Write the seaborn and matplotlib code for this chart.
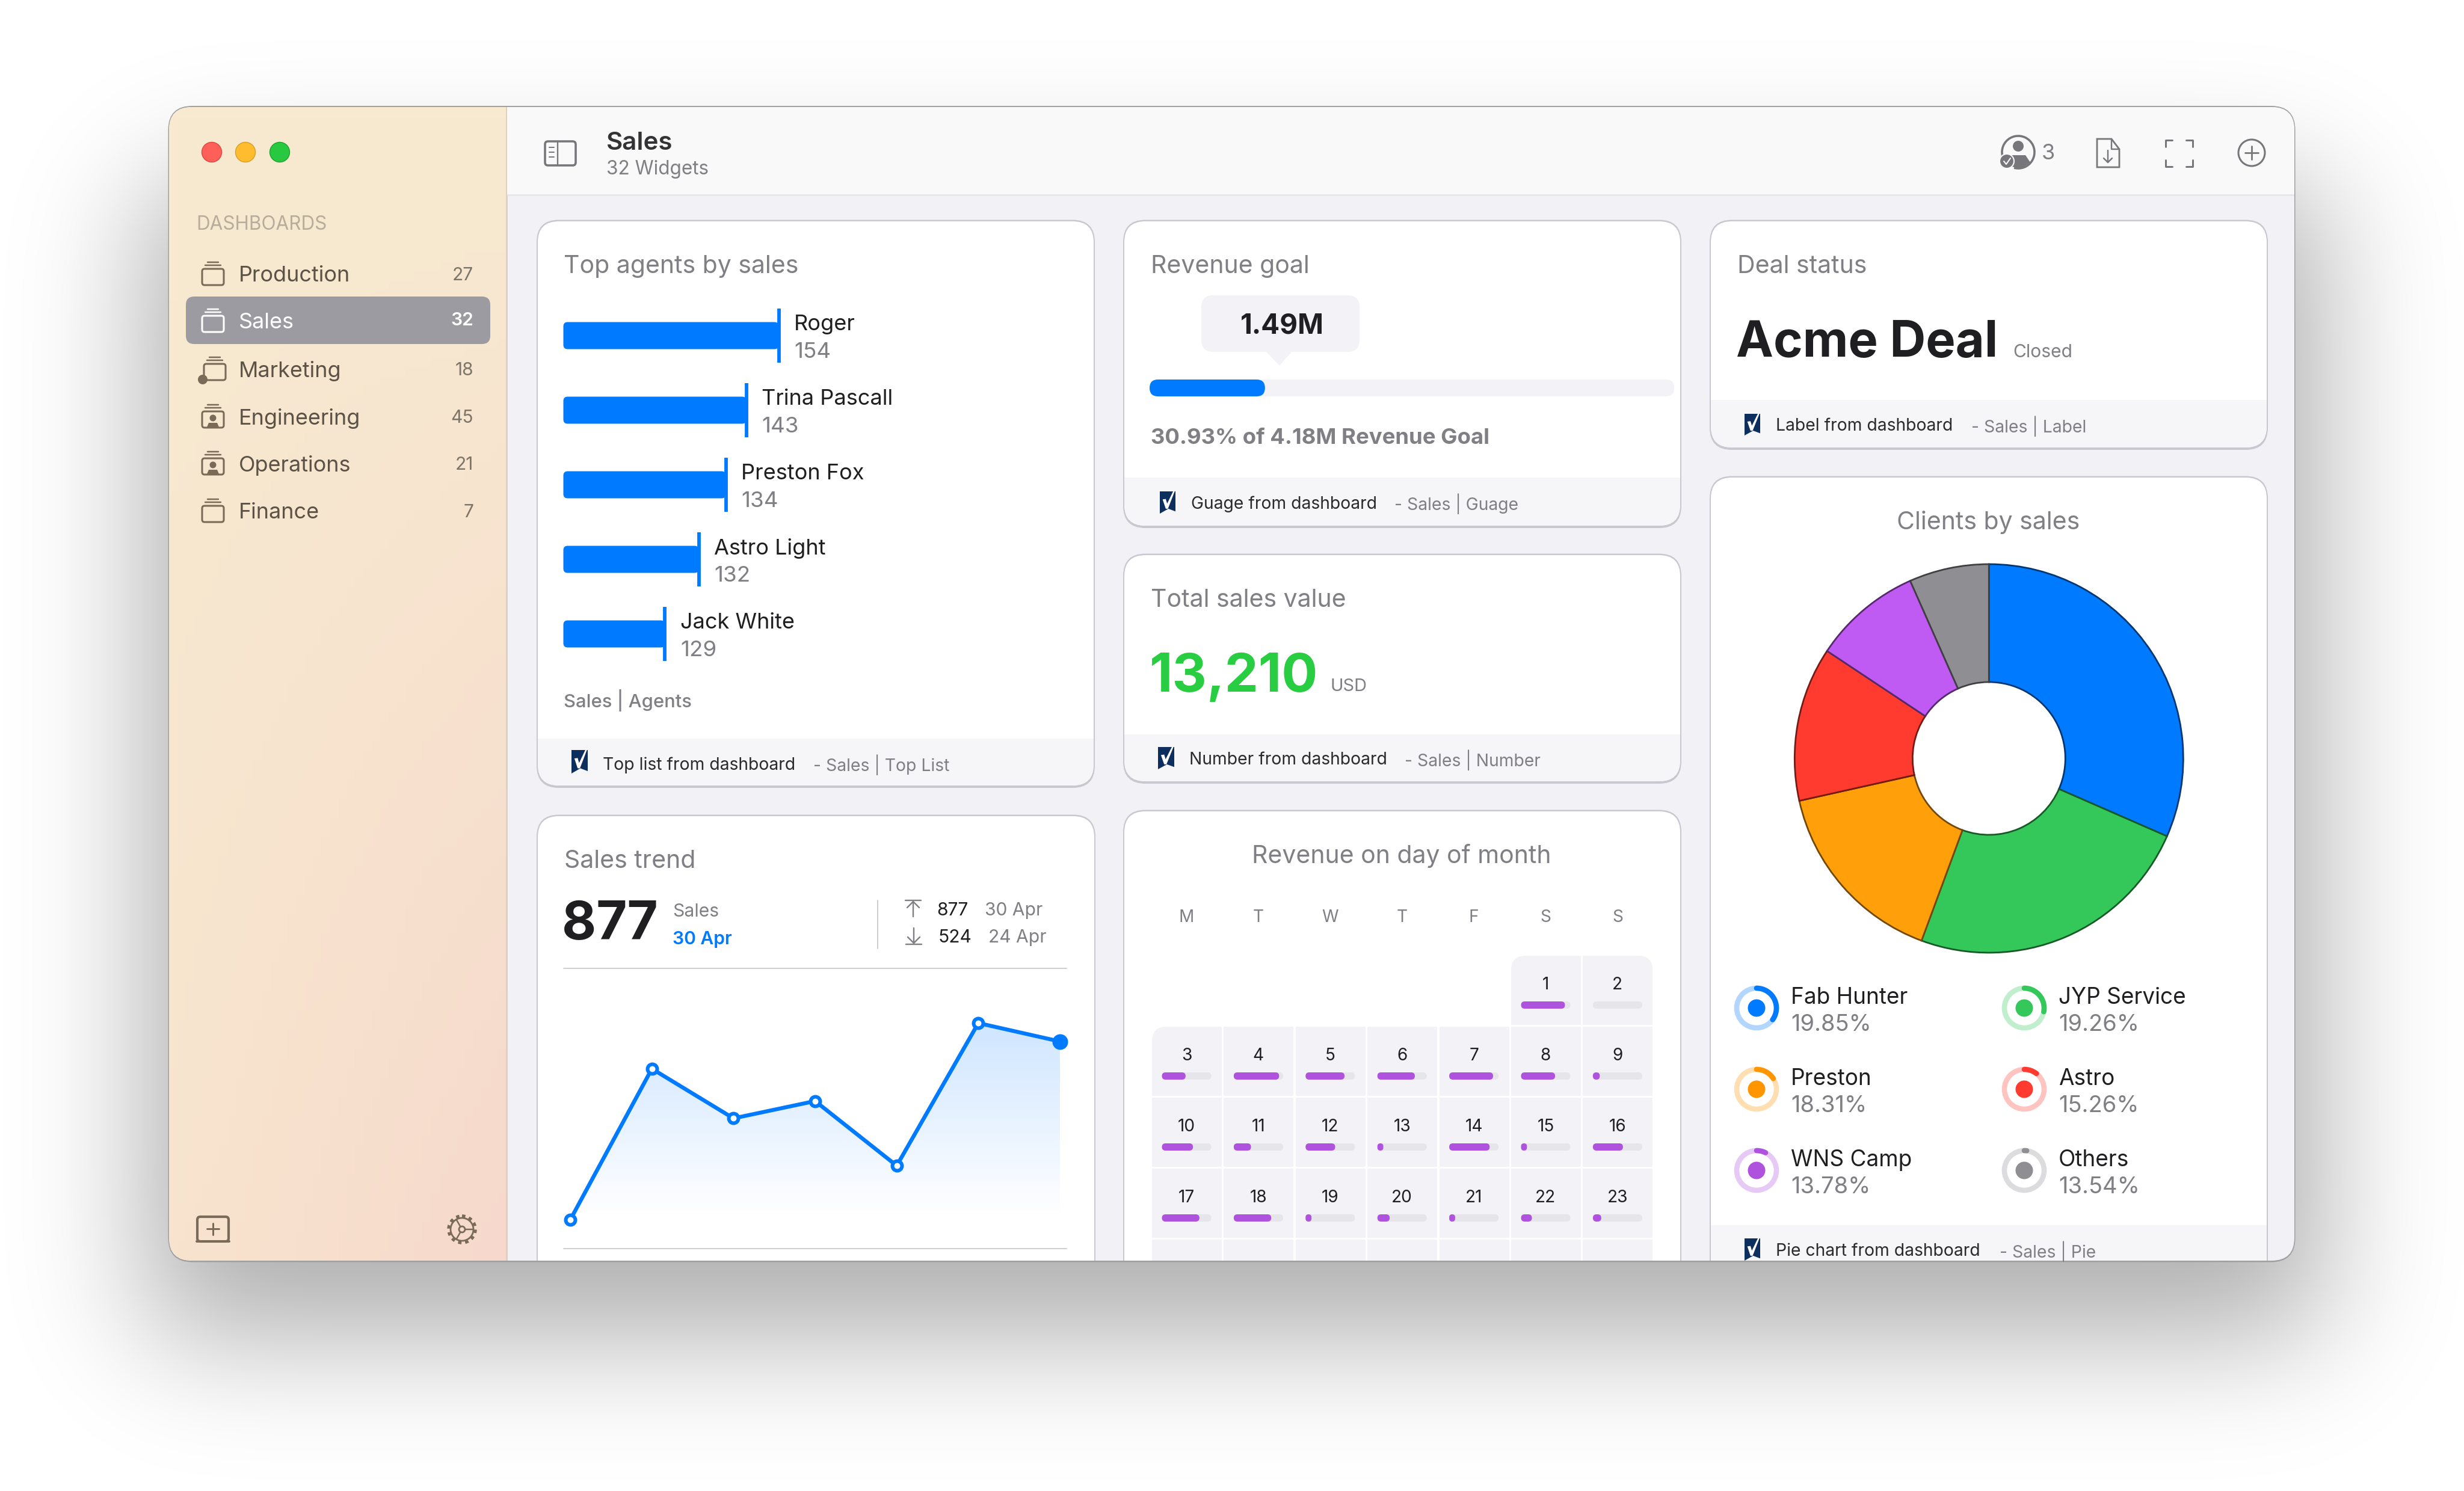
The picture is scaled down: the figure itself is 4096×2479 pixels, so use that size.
import math
import numpy as np
import pandas as pd
import matplotlib
matplotlib.use('Agg')
import matplotlib.pyplot as plt
import seaborn as sns
from matplotlib.patches import Arc, Circle, FancyBboxPatch, Polygon, Rectangle
from matplotlib.transforms import IdentityTransform

# sidebar
sidebar_names = ['Production', 'Sales', 'Marketing', 'Engineering', 'Operations', 'Finance']
sidebar_counts = [27, 32, 18, 45, 21, 7]
sidebar_icons = ['box', 'box', 'lock', 'person', 'person', 'box']

# top agents: the printed value and the length the bar really has on screen
agent_names = ['Roger', 'Trina Pascall', 'Preston Fox', 'Astro Light', 'Jack White']
agent_values = [154, 143, 134, 132, 129]
agent_bar_share = [100, 85, 75.5, 62.9, 47.2]

# gauge
gauge_fill = 22.0

# sales trend, days of april
trend_days = [24, 25, 26, 27, 28, 29, 30]
trend_values = [524, 795, 706, 737, 621, 877, 844]

# clients
client_names = ['Fab Hunter', 'JYP Service', 'Preston', 'Astro', 'WNS Camp', 'Others']
client_pct = ['19.85%', '19.26%', '18.31%', '15.26%', '13.78%', '13.54%']
pie_shares = [31.56, 24.08, 15.86, 12.83, 9.03, 6.64]
pie_order = ['#007aff', '#34c759', '#ff9f0a', '#ff3b30', '#bf5af2', '#8e8e93']
ring_arc = [35, 28, 16, 10.5, 7.5, 2]
ring_colors = ['#007aff', '#34c759', '#ff9500', '#ff3b30', '#af52de', '#8e8e93']

# calendar
weekdays = ['M', 'T', 'W', 'T', 'F', 'S', 'S']
day_fill = [89, 0, 48, 92, 79, 76, 89, 69, 14, 63, 35, 60, 12, 82, 12, 61, 76, 76, 12, 25, 12, 22, 17]

W, H = 4096, 2479
BLUE = '#007aff'
GRAY = '#7f7f84'
DARK = '#1f1f21'
BROWN = '#5c5346'
ICON = '#7a6a58'
FONT = 'Inter'

sns.set_theme(style='white')
plt.rcParams['font.family'] = [FONT, 'DejaVu Sans']

fig = plt.figure(figsize=(W / 100, H / 100), dpi=100, facecolor='white')
chrome = fig.add_axes([0, 0, 1, 1], zorder=0)
chrome.set_xlim(0, W)
chrome.set_ylim(H, 0)
chrome.axis('off')


def ax_px(x0, y0, x1, y1):
    ax = fig.add_axes([x0 / W, 1 - y1 / H, (x1 - x0) / W, (y1 - y0) / H], zorder=5)
    ax.patch.set_alpha(0)
    return ax


def T(x, y, s, size, color=DARK, weight='normal', ha='left', ax=None):
    # matplotlib centres on the line box, which sits a little high for this font
    (ax or chrome).text(x, y + size * 0.1, s, fontsize=size * 0.72, color=color, fontweight=weight,
                        ha=ha, va='center', zorder=8)


def rbox(x0, y0, x1, y1, r, **kw):
    return FancyBboxPatch((x0, y0), x1 - x0, y1 - y0, boxstyle=f'round,pad=0,rounding_size={r}', **kw)


def add(p, clip=True):
    chrome.add_patch(p)
    if clip:
        p.set_clip_path(window)
    return p


def seg(xs, ys, color=ICON, lw=3, z=6):
    line, = chrome.plot(xs, ys, color=color, lw=lw * 0.72, solid_capstyle='round', zorder=z)
    line.set_clip_path(window)


def round_bars(ax, r):
    # seaborn's rectangles give the extents, the visible shape gets round corners
    for p in list(ax.patches):
        bb = p.get_window_extent()
        p.set_visible(False)
        if bb.width < 0.5:
            continue
        rr = min(r, bb.width / 2, bb.height / 2)
        shape = rbox(bb.x0, bb.y0, bb.x1, bb.y1, rr, transform=IdentityTransform(),
                     facecolor=p.get_facecolor(), edgecolor='none', clip_on=False)
        ax.add_patch(shape)


def hbar(ax, labels, values, color, width=1.0):
    sns.barplot(x=values, y=labels, orient='h', color=color, width=width, saturation=1, ax=ax)


# shadow behind the window
xx, yy = np.meshgrid(np.arange(0, W, 8), np.arange(0, H, 8))
phi = np.vectorize(lambda v: 0.5 * (1 + math.erf(v / math.sqrt(2))))
shade = 0.32 * (phi((xx - 240) / 106) - phi((xx - 3855) / 106)) * (phi((yy - 302) / 106) - phi((yy - 2220) / 106))
rgba = np.zeros(xx.shape + (4,))
rgba[..., 3] = shade
chrome.imshow(rgba, extent=[0, W, H, 0], aspect='auto', zorder=0, interpolation='bilinear')
chrome.set_xlim(0, W)
chrome.set_ylim(H, 0)

# window and sidebar
WX0, WY0, WX1, WY1 = 281, 178, 3814, 2096
chrome.add_patch(rbox(WX0 - 1.5, WY0 - 2, WX1 + 1.5, WY1 + 2.5, 40, facecolor='#a0a0a0', edgecolor='none', zorder=0.4))
window = rbox(WX0, WY0, WX1, WY1, 38, facecolor='#f1f1f6', edgecolor='none', zorder=0.5)
chrome.add_patch(window)

gx, gy = np.meshgrid(np.linspace(0, 1, 40), np.linspace(0, 1, 120))
top = np.array([248, 234, 209]) / 255
low_left = np.array([248, 228, 206]) / 255
low_right = np.array([246, 217, 204]) / 255
t = gy[..., None]
lows = low_left + (low_right - low_left) * gx[..., None]
im = chrome.imshow(top + (lows - top) * t, extent=[WX0, 843, WY1, WY0], aspect='auto', zorder=0.6)
im.set_clip_path(window)
chrome.set_xlim(0, W)
chrome.set_ylim(H, 0)
add(Rectangle((841, WY0), 3, WY1 - WY0, facecolor='#dfd0c6', edgecolor='none', zorder=0.7))

for cx, col, edge in zip([352, 408, 465], ['#fe5f58', '#febc2e', '#28c840'], ['#e0443e', '#d99e24', '#1fa32f']):
    chrome.add_patch(Circle((cx, 253), 16.5, facecolor=col, edgecolor=edge, lw=1, zorder=5))

T(326, 370, 'DASHBOARDS', 31.5, '#b8ac9b')
chrome.add_patch(rbox(309, 493, 815, 572, 14, facecolor='#9c9ba2', edgecolor='none', zorder=2))


def stack_icon(x, y, kind, color):
    dx = 3 if kind == 'lock' else 0
    add(rbox(x - 18 + dx, y - 8, x + 18 + dx, y + 19, 4, facecolor='none', edgecolor=color, lw=2.2, zorder=6))
    seg([x - 13 + dx, x + 13 + dx], [y - 14, y - 14], color, 2.5)
    seg([x - 9 + dx, x + 9 + dx], [y - 19, y - 19], color, 2.5)
    if kind == 'person':
        add(Circle((x, y + 3), 5.5, facecolor=color, edgecolor='none', zorder=6))
        add(Polygon([(x - 10, y + 18), (x - 7, y + 11), (x + 7, y + 11), (x + 10, y + 18)],
                    facecolor=color, edgecolor='none', zorder=6))
    if kind == 'lock':
        add(Circle((x - 17, y + 18), 8, facecolor=color, edgecolor='none', zorder=6))


for i, (name, count, kind) in enumerate(zip(sidebar_names, sidebar_counts, sidebar_icons)):
    y = [455, 533, 613, 692, 770, 849][i]
    selected = name == 'Sales'
    stack_icon(354, y, kind, 'white' if selected else ICON)
    T(397, y, name, 36, 'white' if selected else BROWN)
    T(787, y - (3 if selected else 0), str(count), 30, 'white' if selected else '#7d7568', ha='right',
      weight='semibold' if selected else 'normal')

add(rbox(328, 2023, 380, 2064, 5, facecolor='none', edgecolor=ICON, lw=3, zorder=6))
seg([327, 381], [2064, 2064], ICON, 4)
seg([354, 354], [2034, 2053], ICON, 3)
seg([344, 364], [2043, 2043], ICON, 3)
gear = Circle((768, 2044), 22, facecolor='none', edgecolor=ICON, lw=4, ls=(0, (1, 1.1)), zorder=6)
add(gear)
add(Circle((768, 2044), 19, facecolor='none', edgecolor=ICON, lw=2, zorder=6))
add(Circle((768, 2044), 5, facecolor='none', edgecolor=ICON, lw=2, zorder=6))
for a in [0, 120, 240]:
    ca, sa = math.cos(math.radians(a)), math.sin(math.radians(a))
    seg([768 + 5 * ca, 768 + 19 * ca], [2044 + 5 * sa, 2044 + 19 * sa], ICON, 2.5)

# header
add(Rectangle((843, WY0), WX1 - 843, 146, facecolor='#f9f9f9', edgecolor='none', zorder=0.8))
add(Rectangle((843, 323), WX1 - 843, 2.5, facecolor='#e7e7ea', edgecolor='none', zorder=0.8))
add(rbox(906, 235, 957, 275, 5, facecolor='none', edgecolor='#77777b', lw=2.6, zorder=6))
seg([927, 927], [235, 275], '#77777b', 2.4)
for yy_ in [245, 253, 261]:
    seg([913, 921], [yy_, yy_], '#77777b', 2)
T(1008, 234, 'Sales', 42, '#333335', weight='semibold')
T(1008, 278, '32 Widgets', 31.5, GRAY)

# header icons
add(Arc((3355, 253), 54, 54, theta1=165, theta2=105, edgecolor='#77777b', lw=2.6, zorder=6))
add(Circle((3355, 243), 9, facecolor='#77777b', edgecolor='none', zorder=6))
add(Polygon([(3338, 276), (3343, 258), (3367, 258), (3375, 270), (3360, 280)], facecolor='#77777b', edgecolor='none', zorder=6))
add(Circle((3336, 268), 12, facecolor='#77777b', edgecolor='#f9f9f9', lw=1.5, zorder=6.5))
seg([3331, 3335, 3342], [268, 273, 263], 'white', 2, 7)
T(3394, 252, '3', 36, GRAY)
add(Polygon([(3486, 231), (3510, 231), (3523, 248), (3523, 278), (3486, 278)], facecolor='none', edgecolor='#77777b', lw=2, zorder=6))
seg([3510, 3510, 3523], [231, 248, 248], '#77777b', 2.4)
seg([3504, 3504], [250, 270], '#77777b', 2.4)
seg([3497, 3504, 3511], [263, 270, 263], '#77777b', 2.4)
for sx, sy in [(3600, 233), (3645, 233), (3600, 277), (3645, 277)]:
    ix = 1 if sx == 3600 else -1
    iy = 1 if sy == 233 else -1
    seg([sx, sx, sx + 11 * ix], [sy + 11 * iy, sy, sy], '#77777b', 3)
add(Circle((3743, 254), 22, facecolor='none', edgecolor='#77777b', lw=2.2, zorder=6))
seg([3732, 3754], [254, 254], '#77777b', 2.8)
seg([3743, 3743], [243, 265], '#77777b', 2.8)


def card(x0, y0, x1, y1, footer=None):
    add(rbox(x0 - 2, y0 - 2.5, x1 + 2, y1 + 4, 37, facecolor='#c8c8d0', edgecolor='none', zorder=1))
    body = rbox(x0, y0, x1, y1, 35, facecolor='white', edgecolor='none', zorder=1)
    add(body)
    if footer:
        band = rbox(x0, footer, x1, y1, 35, facecolor='#f6f6f9', edgecolor='none', zorder=1)
        add(band)
        add(Rectangle((x0, footer), x1 - x0, 40, facecolor='#f6f6f9', edgecolor='none', zorder=1))


def foot(lx0, ly0, lx1, ly1, tx, ty, left, sx, right):
    w, h = lx1 - lx0, ly1 - ly0
    add(Polygon([(lx0, ly0), (lx1, ly0), (lx1, ly0 + 0.9 * h), (lx0 + 0.55 * w, ly0 + 0.78 * h), (lx0, ly1)],
                facecolor='#0d2f5e', edgecolor='none', zorder=6))
    add(Polygon([(lx0 + 0.18 * w, ly0 + 0.36 * h), (lx0 + 0.38 * w, ly0 + 0.34 * h), (lx0 + 0.47 * w, ly0 + 0.55 * h),
                 (lx0 + 0.85 * w, ly0 + 0.0 * h), (lx0 + 0.95 * w, ly0), (lx0 + 0.52 * w, ly0 + 0.78 * h),
                 (lx0 + 0.38 * w, ly0 + 0.78 * h)], facecolor='white', edgecolor='none', zorder=6.5))
    T(tx, ty, left, 28.3, '#2b2b2d')
    T(sx, ty, right, 28.3, GRAY)


# top agents card
card(894, 368, 1818, 1306, footer=1228)
T(937, 439, 'Top agents by sales', 41, GRAY)
ax = ax_px(936.5, 496, 1294.5, 1116)
hbar(ax, agent_names, agent_bar_share, BLUE, width=45 / 124)
ax.set_xlim(0, 100)
ax.set_ylim(4.5, -0.5)
round_bars(ax, 7)
ax.vlines(agent_bar_share, np.arange(5) - 0.363, np.arange(5) + 0.363, color=BLUE, lw=4.2, clip_on=False)
for i, (name, val, share) in enumerate(zip(agent_names, agent_values, agent_bar_share)):
    ax.annotate(name, (share, i), xytext=(18.5, 13), textcoords='offset points', fontsize=26, color=DARK, va='center')
    ax.annotate(str(val), (share, i), xytext=(18.5, -19.5), textcoords='offset points', fontsize=26.5, color=GRAY, va='center')
ax.axis('off')
T(937, 1161, 'Sales | Agents', 31, GRAY, weight='medium')
foot(950, 1247, 977, 1286, 1002, 1269, 'Top list from dashboard', 1352, '- Sales | Top List')

# revenue goal card
card(1869, 368, 2793, 874, footer=794)
T(1913, 439, 'Revenue goal', 41, GRAY)
add(rbox(1997, 491, 2260, 585, 20, facecolor='#f2f2f7', edgecolor='none', zorder=2))
add(Polygon([(2105, 585), (2147, 585), (2127, 608)], facecolor='#f2f2f7', edgecolor='none', zorder=2))
T(2131, 538, '1.49M', 46, DARK, weight='bold', ha='center')
ax = ax_px(1911, 631, 2783, 659)
hbar(ax, ['goal'], [100], '#f2f2f7')
hbar(ax, ['goal'], [gauge_fill], BLUE)
ax.set_xlim(0, 100)
ax.set_ylim(0.5, -0.5)
round_bars(ax, 14)
ax.axis('off')
T(1913, 725, '30.93% of 4.18M Revenue Goal', 36.5, GRAY, weight='bold')
foot(1928, 817, 1954, 854, 1980, 835, 'Guage from dashboard', 2318, '- Sales | Guage')

# total sales card
card(1869, 923, 2793, 1299, footer=1221)
T(1913, 994, 'Total sales value', 41, GRAY)
T(1911, 1118, '13,210', 89, '#28cd41', weight='bold')
T(2211, 1139, 'USD', 29, GRAY)
foot(1925, 1242, 1952, 1279, 1977, 1261, 'Number from dashboard', 2335, '- Sales | Number')

# deal status card
card(2844, 368, 3768, 744, footer=665)
T(2888, 439, 'Deal status', 41, GRAY)
T(2886, 563, 'Acme Deal', 83, DARK, weight='bold')
T(3346, 583, 'Closed', 30, GRAY)
foot(2900, 688, 2926, 724, 2952, 706, 'Label from dashboard', 3277, '- Sales | Label')

# clients card
card(2844, 794, 3768, 2300, footer=2037)
T(3305, 864, 'Clients by sales', 41, GRAY, ha='center')
ax = ax_px(3306.3 - 323, 1261 - 323, 3306.3 + 323, 1261 + 323)
wedges, _ = ax.pie(pie_shares, colors=pie_order, startangle=90, counterclock=False, radius=1,
                   wedgeprops=dict(width=1 - 127 / 323, linewidth=2))
for w_, col in zip(wedges, pie_order):
    w_.set_edgecolor(tuple(c * 0.45 for c in matplotlib.colors.to_rgb(col)))
    w_.set_clip_on(False)
ax.set_xlim(-1, 1)
ax.set_ylim(-1, 1)

for i, (name, pct, arc, col) in enumerate(zip(client_names, client_pct, ring_arc, ring_colors)):
    cx = [2920, 3365][i % 2]
    cy = [1676, 1811, 1946][i // 2]
    ax = ax_px(cx - 38, cy - 38, cx + 38, cy + 38)
    ax.set_xlim(-38, 38)
    ax.set_ylim(-38, 38)
    ax.axis('off')
    ax.add_patch(Circle((0, 0), 33, facecolor='none', edgecolor=col, alpha=0.3, lw=6.2))
    ax.add_patch(Arc((0, 0), 66, 66, theta1=90 - arc * 3.6, theta2=90, edgecolor=col, lw=6.2, capstyle='round'))
    ax.add_patch(Circle((0, 0), 14.5, facecolor=col, edgecolor='none'))
    T(cx + 57, cy - 21, name, 37, DARK)
    T(cx + 57, cy + 24, pct, 38, GRAY)
foot(2900, 2059, 2926, 2096, 2952, 2078, 'Pie chart from dashboard', 3324, '- Sales | Pie')

# sales trend card
card(894, 1357, 1819, 2300)
T(938, 1428, 'Sales trend', 41, GRAY)
T(934, 1530, '877', 88, DARK, weight='bold')
T(1118, 1513, 'Sales', 30, GRAY)
T(1118, 1559, '30 Apr', 30, BLUE, weight='semibold')
seg([1459, 1459], [1497, 1577], '#cfcfd3', 2)
seg([1505, 1531], [1497, 1497], GRAY, 2.4)
seg([1518, 1518], [1499, 1524], GRAY, 2.4)
seg([1508, 1518, 1528], [1509, 1499, 1509], GRAY, 2.4)
seg([1506, 1532], [1570, 1570], GRAY, 2.4)
seg([1519, 1519], [1543, 1568], GRAY, 2.4)
seg([1509, 1519, 1529], [1558, 1568, 1558], GRAY, 2.4)
T(1557, 1511, '877', 30, DARK)
T(1637, 1511, '30 Apr', 30, GRAY)
T(1560, 1556, '524', 30, DARK)
T(1643, 1556, '24 Apr', 30, GRAY)
seg([936.5, 1773], [1610, 1610], '#cfcfd3', 2)
seg([936.5, 1773], [2076, 2076], '#cfcfd3', 2)

ax = ax_px(948, 1701, 1762, 2028)
grad = np.zeros((100, 2, 4))
grad[..., :3] = matplotlib.colors.to_rgb(BLUE)
grad[..., 3] = np.linspace(0, 0.19, 100)[:, None]
fade = ax.imshow(grad, extent=[trend_days[0], trend_days[-1], min(trend_values), max(trend_values)],
                 origin='lower', aspect='auto', zorder=1)
outline = list(zip(trend_days, trend_values)) + [(trend_days[-1], min(trend_values)), (trend_days[0], min(trend_values))]
fade.set_clip_path(Polygon(outline, transform=ax.transData))
trend = pd.DataFrame({'day': trend_days, 'sales': trend_values})
sns.lineplot(data=trend, x='day', y='sales', color=BLUE, lw=4.7, marker='o', markersize=11.5, markerfacecolor='white',
             markeredgecolor=BLUE, markeredgewidth=4.3, clip_on=False, ax=ax, zorder=3)
sns.scatterplot(data=trend.tail(1), x='day', y='sales', color=BLUE, s=300, edgecolor=BLUE, clip_on=False, ax=ax, zorder=4)
ax.set_xlim(trend_days[0], trend_days[-1])
ax.set_ylim(min(trend_values), max(trend_values))
ax.axis('off')

# calendar card
card(1869, 1349, 2793, 2300)
T(2330, 1419, 'Revenue on day of month', 41, GRAY, ha='center')
CX, CY, PX, PY = 1915, 1589, 119.4, 118
for k, label in enumerate(weekdays):
    T(CX + PX * k + 57.5, 1523, label, 28, GRAY, ha='center')

cells = [(5, 0, 'tl'), (6, 0, 'tr')] + [(c, 1, 'tl' if c == 0 else '') for c in range(7)]
cells += [(c, r, '') for r in [2, 3, 4] for c in range(7)]
for c, r, corner in cells:
    x0, y0 = CX + PX * c, CY + PY * r
    cell = Rectangle((x0, y0), PX - 3.5, PY - 3.5, facecolor='#f2f2f7', edgecolor='none', zorder=2)
    add(cell)
    if corner:
        left = x0 if corner == 'tl' else x0 - 60
        mask = rbox(left, y0, left + PX - 3.5 + 60, y0 + PY + 60, 24, transform=chrome.transData)
        cell.set_clip_path(mask)

for day, fill in enumerate(day_fill, start=1):
    idx = day - 1 + 5
    c, r = idx % 7, idx // 7
    mid, y0 = CX + PX * c + 57.5, CY + PY * r
    T(mid, y0 + 46, str(day), 28, DARK, ha='center')
    ax = ax_px(mid - 41, y0 + 76, mid + 41, y0 + 88)
    hbar(ax, [str(day)], [100], '#e5e5ea')
    hbar(ax, [str(day)], [fill], '#af52de')
    ax.set_xlim(0, 100)
    ax.set_ylim(0.5, -0.5)
    round_bars(ax, 6)
    ax.axis('off')

fig.savefig('out.png', dpi=100, facecolor='white')
